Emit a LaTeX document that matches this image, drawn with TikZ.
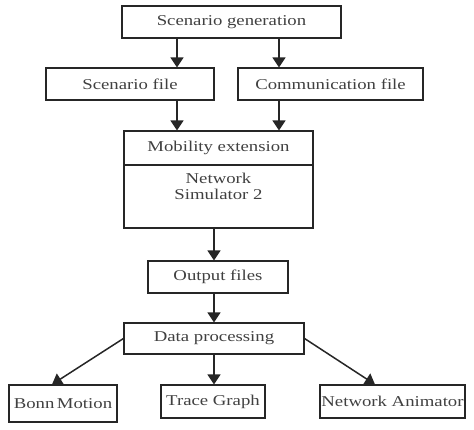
\documentclass[tikz,border=0pt]{standalone}
\usepackage{fontspec}
\setmainfont[FakeStretch=1.25]{Liberation Serif}
\usepackage{tikz}
\usetikzlibrary{arrows.meta,%
                positioning}

\begin{document}
\begin{tikzpicture}[x=1pt,y=-1pt]
		\tikzstyle{Box}=[draw=black!85,line width=1.1pt,rectangle,inner sep=0pt,
			font=\fontsize{15}{17}\selectfont,text=black!75]
		\tikzstyle{post}=[draw=black!85,line width=1.5pt,
			-{Triangle[width=13pt,length=10pt]}]
		\useasboundingbox (0,0) rectangle (474,430);
		% top part
		\node[Box,minimum width=219pt,minimum height=32pt] (gen) at (231.5,22) {Scenario generation};
		\node[Box,minimum width=168pt,minimum height=32pt] (sfile) at (130,84) {Scenario file};
		\node[Box,minimum width=185pt,minimum height=32pt] (cfile) at (330.5,84) {Communication file};
		% simulator
		\node[Box,minimum width=189pt,minimum height=34pt] (mob) at (218.5,148) {Mobility extension};
		\node[Box,minimum width=189pt,minimum height=63pt,
			label={[anchor=north,align=center,yshift=-5pt,font=\fontsize{15}{16}\selectfont,text=black!75]north:Network\\Simulator 2}] (ns) at (218.5,196.5) {};
		%\node[Box] (ns) at (218.5,196.5) {Network Simulator 2};
		\node[Box,minimum width=140pt,minimum height=32pt] (out) at (218,277) {Output files};
		\node[Box,minimum width=180pt,minimum height=31pt] (dp) at (214,338.5) {Data processing};
		% tools
		\node[Box,minimum width=108pt,minimum height=37pt] (bonn) at (63,403.5) {Bonn\,Motion};
		\node[Box,minimum width=104pt,minimum height=33pt] (trace) at (213,401.5) {Trace Graph};
		\node[Box,minimum width=145pt,minimum height=33pt] (nam) at (392.5,401.5) {Network Animator};
		\draw[post] ([xshift=-54.5pt]gen.south) -- ([xshift=-54.5pt]gen.south |- sfile.north);
		\draw[post] ([xshift=47.5pt]gen.south) -- ([xshift=47.5pt]gen.south |- cfile.north);
		\draw[post] ([xshift=47pt]sfile.south) -- ([xshift=47pt]sfile.south |- mob.north);
		\draw[post] ([xshift=-51.5pt]cfile.south) -- ([xshift=-51.5pt]cfile.south |- mob.north);
		\draw[post] (dp.north |- ns.south) -- (dp.north |- out.north);
		\draw[post] (dp.north |- out.south) -- (dp.north);
		\draw[post] (dp.west) -- ([xshift=-11pt]bonn.north);
		\draw[post] (dp.south) -- (dp.south |- trace.north);
		\draw[post] (dp.east) -- ([xshift=-17.5pt]nam.north);
		%  \draw[post] (ns) -- (dp);
	\end{tikzpicture}
\end{document}
